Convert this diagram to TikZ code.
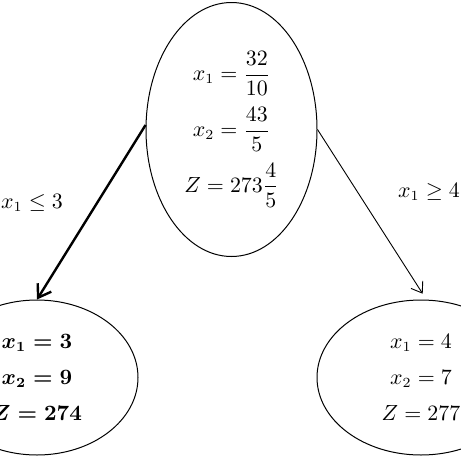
\documentclass[tikz,border=0pt]{standalone}
\usepackage{amsmath}
\usetikzlibrary{shapes.geometric,arrows.meta}
\begin{document}
\begin{tikzpicture}[x=0.5pt,y=-0.5pt,
  ell/.style={draw,ellipse,line width=0.5pt,inner sep=0pt,align=center,font=\fontsize{10.5}{12.6}\selectfont},
  thickarr/.style={line width=1.2pt,-{Straight Barb[length=6pt,width=8pt,line width=1.2pt]}},
  thinarr/.style={line width=0.45pt,-{Straight Barb[length=5pt,width=7pt]}},
  lbl/.style={font=\fontsize{10.5}{12.6}\selectfont,inner sep=0pt}]
\useasboundingbox (0,0) rectangle (461,461);
\clip (0,0) rectangle (461,461);
\fill[white] (0,0) rectangle (461,461);
\node[ell,minimum width=85.5pt,minimum height=127pt] (top) at (231.5,129.5)
  {$x_1=\dfrac{32}{10}$\\[5pt] $x_2=\dfrac{43}{5}$\\[5pt] $Z=273\dfrac{4}{5}$};
\node[ell,minimum width=101pt,minimum height=77.5pt] (bl) at (37,377.5)
  {$\boldsymbol{x_1=3}$\\[5.5pt] $\boldsymbol{x_2=9}$\\[5.5pt] $\boldsymbol{Z=274}$};
\node[ell,minimum width=104pt,minimum height=77.5pt] (br) at (421,377.5)
  {$x_1=4$\\[5.5pt] $x_2=7$\\[5.5pt] $Z=277$};
\draw[thickarr] (top.177) -- (bl.north);
\draw[thinarr,shorten >=3.5pt] (top.east) -- (br.86);
\node[lbl] (l1) at (32,203) {$x_1\leq 3$};
\node[lbl] (l2) at (429,192) {$x_1\geq 4$};
\end{tikzpicture}
\end{document}
